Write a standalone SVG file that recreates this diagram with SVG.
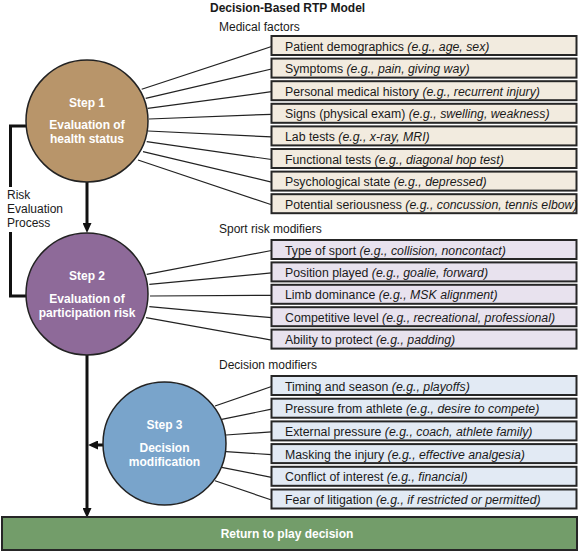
<svg xmlns="http://www.w3.org/2000/svg" width="578" height="551" viewBox="0 0 578 551">
<style>
text{font-family:"Liberation Sans",Arial,sans-serif;font-size:12px;fill:#1a1a1a}
.bt{font-size:12.3px}
.b{font-weight:bold}
.w{fill:#fff;font-weight:bold;text-anchor:middle}
.i{font-style:italic}
.box{stroke:#262626;stroke-width:2}
.med{fill:#f2ebdf}
.spt{fill:#e8e2ee}
.dec{fill:#e2eaf4}
.circ{stroke:#222;stroke-width:1.5}
.thin{stroke:#222;stroke-width:1.2;fill:none}
.thick{stroke:#111;stroke-width:3;fill:none}
</style>
<defs>
<marker id="ah" markerUnits="userSpaceOnUse" markerWidth="10" markerHeight="9" refX="0" refY="4.5" orient="auto">
<path d="M0,0 L10,4.5 L0,9 z" fill="#111"/>
</marker>
</defs>
<rect width="578" height="551" fill="#fff"/>
<text class="b" x="210" y="12">Decision-Based RTP Model</text>
<text x="219" y="30.5">Medical factors</text>
<text x="219" y="233">Sport risk modifiers</text>
<text x="219" y="369">Decision modifiers</text>
<g id="risk-label">
<text x="7" y="199">Risk</text>
<text x="7" y="213">Evaluation</text>
<text x="7" y="227">Process</text>
</g>
<g id="connectors">
<polyline class="thick" points="26,126 10.5,126 10.5,187"/>
<polyline class="thick" points="10.5,232 10.5,296 26,296"/>
<line class="thick" x1="87" y1="182" x2="87" y2="223" marker-end="url(#ah)"/>
<line class="thick" x1="87" y1="355" x2="87" y2="508" marker-end="url(#ah)"/>
<line class="thick" x1="103" y1="445" x2="98" y2="445" marker-end="url(#ah)"/>
<line class="thin" x1="141.7" y1="89.3" x2="271.5" y2="46.5"/>
<line class="thin" x1="145.7" y1="98.3" x2="271.5" y2="69"/>
<line class="thin" x1="147.7" y1="108.3" x2="271.5" y2="91.7"/>
<line class="thin" x1="149" y1="119" x2="271.5" y2="114.3"/>
<line class="thin" x1="148" y1="131" x2="271.5" y2="136.9"/>
<line class="thin" x1="146.7" y1="141.7" x2="271.5" y2="159.5"/>
<line class="thin" x1="143" y1="151.7" x2="271.5" y2="182.1"/>
<line class="thin" x1="138" y1="160" x2="271.5" y2="204.7"/>
<line class="thin" x1="146.7" y1="274.3" x2="271.5" y2="250.5"/>
<line class="thin" x1="149.3" y1="284.3" x2="271.5" y2="272.9"/>
<line class="thin" x1="150" y1="296" x2="271.5" y2="295.3"/>
<line class="thin" x1="149.3" y1="306.7" x2="271.5" y2="317.7"/>
<line class="thin" x1="146" y1="317.7" x2="271.5" y2="340.1"/>
<line class="thin" x1="215" y1="406" x2="271.5" y2="386.5"/>
<line class="thin" x1="221.7" y1="419.3" x2="271.5" y2="409.2"/>
<line class="thin" x1="226" y1="435" x2="271.5" y2="431.9"/>
<line class="thin" x1="226" y1="451.7" x2="271.5" y2="454.6"/>
<line class="thin" x1="221.7" y1="467.3" x2="271.5" y2="477.3"/>
<line class="thin" x1="215" y1="480.7" x2="271.5" y2="500"/>
</g>
<g id="step1">
<circle class="circ" cx="87" cy="121" r="61" fill="#b8956a"/>
<text class="w" x="87" y="107">Step 1</text>
<text class="w" x="87" y="129">Evaluation of</text>
<text class="w" x="87" y="143">health status</text>
</g>
<g id="step2">
<circle class="circ" cx="87" cy="294" r="61" fill="#8e6a99"/>
<text class="w" x="87" y="280">Step 2</text>
<text class="w" x="87" y="302.7">Evaluation of</text>
<text class="w" x="87" y="316.7">participation risk</text>
</g>
<g id="step3">
<circle class="circ" cx="164.5" cy="443.5" r="61.5" fill="#79a4cb"/>
<text class="w" x="164.5" y="429">Step 3</text>
<text class="w" x="164.5" y="451.7">Decision</text>
<text class="w" x="164.5" y="465.5">modification</text>
</g>
<g id="medical-factors">
<g id="m1"><rect class="box med" x="271.5" y="36" width="305" height="19"/><text class="bt" x="285" y="50.5">Patient demographics <tspan class="i">(e.g., age, sex)</tspan></text></g>
<g id="m2"><rect class="box med" x="271.5" y="58.6" width="305" height="19"/><text class="bt" x="285" y="73.1">Symptoms <tspan class="i">(e.g., pain, giving way)</tspan></text></g>
<g id="m3"><rect class="box med" x="271.5" y="81.2" width="305" height="19"/><text class="bt" x="285" y="95.7">Personal medical history <tspan class="i">(e.g., recurrent injury)</tspan></text></g>
<g id="m4"><rect class="box med" x="271.5" y="103.8" width="305" height="19"/><text class="bt" x="285" y="118.3">Signs (physical exam) <tspan class="i">(e.g., swelling, weakness)</tspan></text></g>
<g id="m5"><rect class="box med" x="271.5" y="126.4" width="305" height="19"/><text class="bt" x="285" y="140.9">Lab tests <tspan class="i">(e.g., x-ray, MRI)</tspan></text></g>
<g id="m6"><rect class="box med" x="271.5" y="149" width="305" height="19"/><text class="bt" x="285" y="163.5">Functional tests <tspan class="i">(e.g., diagonal hop test)</tspan></text></g>
<g id="m7"><rect class="box med" x="271.5" y="171.6" width="305" height="19"/><text class="bt" x="285" y="186.1">Psychological state <tspan class="i">(e.g., depressed)</tspan></text></g>
<g id="m8"><rect class="box med" x="271.5" y="194.2" width="305" height="19"/><text class="bt" x="285" y="208.7">Potential seriousness <tspan class="i">(e.g., concussion, tennis elbow)</tspan></text></g>
</g>
<g id="sport-risk-modifiers">
<g id="s1"><rect class="box spt" x="271.5" y="240" width="305" height="19"/><text class="bt" x="285" y="254.5">Type of sport <tspan class="i">(e.g., collision, noncontact)</tspan></text></g>
<g id="s2"><rect class="box spt" x="271.5" y="262.4" width="305" height="19"/><text class="bt" x="285" y="276.9">Position played <tspan class="i">(e.g., goalie, forward)</tspan></text></g>
<g id="s3"><rect class="box spt" x="271.5" y="284.8" width="305" height="19"/><text class="bt" x="285" y="299.3">Limb dominance <tspan class="i">(e.g., MSK alignment)</tspan></text></g>
<g id="s4"><rect class="box spt" x="271.5" y="307.2" width="305" height="19"/><text class="bt" x="285" y="321.7">Competitive level <tspan class="i">(e.g., recreational, professional)</tspan></text></g>
<g id="s5"><rect class="box spt" x="271.5" y="329.6" width="305" height="19"/><text class="bt" x="285" y="344.1">Ability to protect <tspan class="i">(e.g., padding)</tspan></text></g>
</g>
<g id="decision-modifiers">
<g id="d1"><rect class="box dec" x="271.5" y="376" width="305" height="19"/><text class="bt" x="285" y="390.5">Timing and season <tspan class="i">(e.g., playoffs)</tspan></text></g>
<g id="d2"><rect class="box dec" x="271.5" y="398.7" width="305" height="19"/><text class="bt" x="285" y="413.2">Pressure from athlete <tspan class="i">(e.g., desire to compete)</tspan></text></g>
<g id="d3"><rect class="box dec" x="271.5" y="421.4" width="305" height="19"/><text class="bt" x="285" y="435.9">External pressure <tspan class="i">(e.g., coach, athlete family)</tspan></text></g>
<g id="d4"><rect class="box dec" x="271.5" y="444.1" width="305" height="19"/><text class="bt" x="285" y="458.6">Masking the injury <tspan class="i">(e.g., effective analgesia)</tspan></text></g>
<g id="d5"><rect class="box dec" x="271.5" y="466.8" width="305" height="19"/><text class="bt" x="285" y="481.3">Conflict of interest <tspan class="i">(e.g., financial)</tspan></text></g>
<g id="d6"><rect class="box dec" x="271.5" y="489.5" width="305" height="19"/><text class="bt" x="285" y="504">Fear of litigation <tspan class="i">(e.g., if restricted or permitted)</tspan></text></g>
</g>
<g id="return-to-play">
<rect x="2" y="517" width="575" height="33" fill="#739d6a" stroke="#262626" stroke-width="2"/>
<text class="w" x="287" y="537.5">Return to play decision</text>
</g>
</svg>
